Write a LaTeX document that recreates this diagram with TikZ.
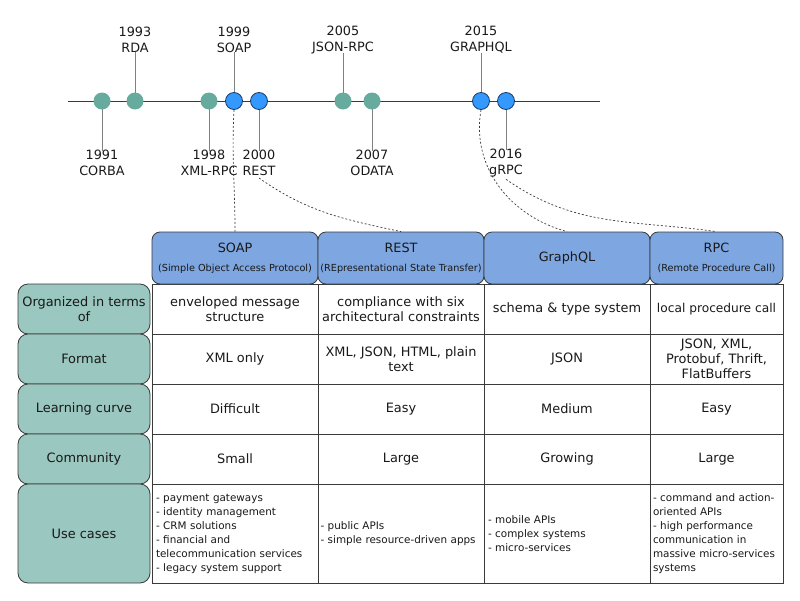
\documentclass[tikz,border=0pt]{standalone}
\usepackage{fontspec}
\setmainfont{DejaVu Sans}
\definecolor{hdrblue}{HTML}{7EA6E0}
\definecolor{lblteal}{HTML}{9AC7BF}
\definecolor{dotteal}{HTML}{67AB9F}
\definecolor{dotblue}{HTML}{3399FF}
\definecolor{dotedge}{HTML}{1C3B66}
\definecolor{edgegray}{HTML}{3A3A3A}
\definecolor{tickgray}{HTML}{808080}
\begin{document}
\begin{tikzpicture}[x=1pt,y=-1pt,
  every node/.style={text=black!90},
  tline/.style={draw=edgegray, line width=1pt},
  tickline/.style={draw=tickgray, line width=1pt},
  tdotg/.style={circle, fill=dotteal, minimum size=17pt, inner sep=0pt},
  tdotb/.style={circle, fill=dotblue, draw=dotedge, line width=0.8pt, minimum size=17pt, inner sep=0pt},
  tlab/.style={align=center, inner sep=2pt, font=\fontsize{12.8}{16}\selectfont},
  hdr/.style={draw=edgegray, fill=hdrblue, rounded corners=8pt, line width=0.8pt, minimum height=52pt, inner sep=0pt, align=center, font=\fontsize{12.8}{15}\selectfont},
  lbl/.style={draw=edgegray, fill=lblteal, rounded corners=10pt, minimum width=132pt, line width=0.8pt, inner sep=0pt, align=center, font=\fontsize{12.9}{15}\selectfont},
  cell/.style={draw=edgegray, fill=white, line width=0.8pt, inner sep=0pt, align=center, font=\fontsize{12.9}{15}\selectfont},
  ucell/.style={draw=edgegray, fill=white, line width=0.8pt, inner xsep=4pt, inner ysep=0pt, align=left, font=\fontsize{10.4}{14}\selectfont},
  conn/.style={draw=edgegray, dash pattern=on 2pt off 2pt, line width=0.7pt}
]
\useasboundingbox (0,0) rectangle (800,600);

% ---------------- timeline ----------------
\coordinate (tlstart) at (68,101);
\coordinate (tlend) at (600,101);
\draw[tline] (tlstart) -- (tlend);

% labels
\node[tlab] (l1993) at (135,40) {1993\\RDA};
\node[tlab] (l1999) at (234,40) {1999\\SOAP};
\node[tlab] (l2005) at (343,40) {2005\\JSON-RPC};
\node[tlab] (l2015) at (481,40) {2015\\GRAPHQL};
\node[tlab] (l1991) at (102,163) {1991\\CORBA};
\node[tlab] (l1998) at (209,163) {1998\\XML-RPC};
\node[tlab] (l2000) at (259,163) {2000\\REST};
\node[tlab] (l2007) at (372,163) {2007\\ODATA};
\node[tlab] (l2016) at (506,163) {2016\\gRPC};

% dots (positions)
\coordinate (p1991) at (102,101);
\coordinate (p1993) at (135,101);
\coordinate (p1998) at (209,101);
\coordinate (p1999) at (234,101);
\coordinate (p2000) at (259,101);
\coordinate (p2005) at (343,101);
\coordinate (p2007) at (372,101);
\coordinate (p2015) at (481,101);
\coordinate (p2016) at (506,101);

% ticks
\draw[tickline] ([yshift=3pt]l1993.south) -- (p1993);
\draw[tickline] ([yshift=3pt]l1999.south) -- (p1999);
\draw[tickline] ([yshift=3pt]l2005.south) -- (p2005);
\draw[tickline] ([yshift=3pt]l2015.south) -- (p2015);
\draw[tickline] ([yshift=-3pt]l1991.north) -- (p1991);
\draw[tickline] ([yshift=-3pt]l1998.north) -- (p1998);
\draw[tickline] ([yshift=-3pt]l2000.north) -- (p2000);
\draw[tickline] ([yshift=-3pt]l2007.north) -- (p2007);
\draw[tickline] ([yshift=-3pt]l2016.north) -- (p2016);

\node[tdotg] (d1991) at (p1991) {};
\node[tdotg] (d1993) at (p1993) {};
\node[tdotg] (d1998) at (p1998) {};
\node[tdotb] (d1999) at (p1999) {};
\node[tdotb] (d2000) at (p2000) {};
\node[tdotg] (d2005) at (p2005) {};
\node[tdotg] (d2007) at (p2007) {};
\node[tdotb] (d2015) at (p2015) {};
\node[tdotb] (d2016) at (p2016) {};

% ---------------- table ----------------
% row label boxes
\node[lbl, minimum height=50pt] (rorg) at (84,309) {Organized in terms\\of};
\node[lbl, minimum height=50pt] (rfmt) at (84,359) {Format};
\node[lbl, minimum height=50pt] (rlrn) at (84,409) {Learning curve};
\node[lbl, minimum height=50pt] (rcom) at (84,459) {Community};
\node[lbl, minimum height=99pt] (ruse) at (84,533.5) {Use cases};

% cells: SOAP
\node[cell, minimum width=166pt, minimum height=50pt] (s1) at (235,309) {enveloped message\\structure};
\node[cell, minimum width=166pt, minimum height=50pt] (s2) at (235,359) {XML only};
\node[cell, minimum width=166pt, minimum height=50pt] (s3) at (235,409) {Difficult};
\node[cell, minimum width=166pt, minimum height=50pt] (s4) at (235,459) {Small};
\node[ucell, text width=158pt, minimum height=99pt] (s5) at (235,533.5) {- payment gateways\\- identity management\\- CRM solutions\\- financial and\\telecommunication services\\- legacy system support};

% cells: REST
\node[cell, minimum width=166pt, minimum height=50pt] (r1) at (401,309) {compliance with six\\architectural constraints};
\node[cell, minimum width=166pt, minimum height=50pt] (r2) at (401,359) {XML, JSON, HTML, plain\\text};
\node[cell, minimum width=166pt, minimum height=50pt] (r3) at (401,409) {Easy};
\node[cell, minimum width=166pt, minimum height=50pt] (r4) at (401,459) {Large};
\node[ucell, inner xsep=2.5pt, text width=161pt, minimum height=99pt] (r5) at (401,533.5) {- public APIs\\- simple resource-driven apps};

% cells: GraphQL
\node[cell, minimum width=166pt, minimum height=50pt] (g1) at (567,309) {schema \& type system};
\node[cell, minimum width=166pt, minimum height=50pt] (g2) at (567,359) {JSON};
\node[cell, minimum width=166pt, minimum height=50pt] (g3) at (567,409) {Medium};
\node[cell, minimum width=166pt, minimum height=50pt] (g4) at (567,459) {Growing};
\node[ucell, text width=158pt, minimum height=99pt] (g5) at (567,533.5) {- mobile APIs\\- complex systems\\- micro-services};

% cells: RPC
\node[cell, minimum width=133pt, minimum height=50pt, font=\fontsize{12.2}{15}\selectfont] (c1) at (716.5,309) {local procedure call};
\node[cell, minimum width=133pt, minimum height=50pt] (c2) at (716.5,359) {JSON, XML,\\Protobuf, Thrift,\\FlatBuffers};
\node[cell, minimum width=133pt, minimum height=50pt] (c3) at (716.5,409) {Easy};
\node[cell, minimum width=133pt, minimum height=50pt] (c4) at (716.5,459) {Large};
\node[ucell, inner xsep=3pt, text width=127pt, minimum height=99pt] (c5) at (716.5,533.5) {- command and action-\\oriented APIs\\- high performance\\communication in\\massive micro-services\\systems};

% headers
\node[hdr, minimum width=166pt] (hsoap) at (235,258) {SOAP\\[4pt]{\fontsize{9.7}{11}\selectfont(Simple Object Access Protocol)}};
\node[hdr, minimum width=166pt] (hrest) at (401,258) {REST\\[4pt]{\fontsize{9.7}{11}\selectfont(REpresentational State Transfer)}};
\node[hdr, minimum width=166pt] (hgql) at (567,258) {GraphQL};
\node[hdr, minimum width=133pt] (hrpc) at (716.5,258) {RPC\\[4pt]{\fontsize{9.7}{11}\selectfont(Remote Procedure Call)}};

% dashed connectors
\draw[conn] (d1999.south) to[out=-93,in=90] (hsoap.north);
\draw[conn] (l2000.south) to[out=-35,in=168] (hrest.north);
\draw[conn] (d2015.south) to[out=-100,in=165] (hgql.north);
\draw[conn] (l2016.south) to[out=-35,in=172] (hrpc.north);
\end{tikzpicture}
\end{document}
